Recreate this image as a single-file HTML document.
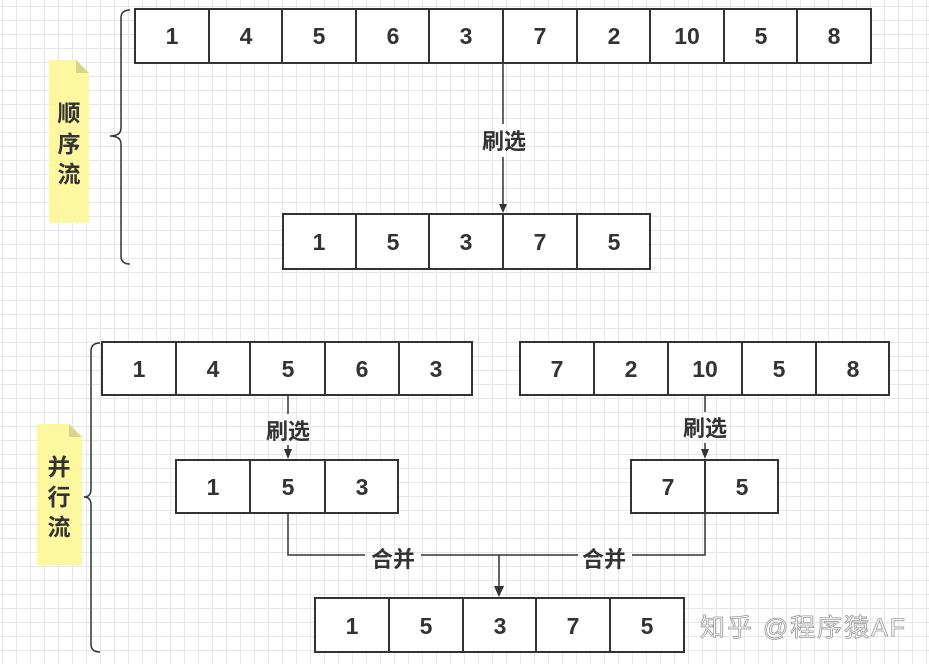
<!DOCTYPE html>
<html><head><meta charset="utf-8"><style>
html,body{margin:0;padding:0}
body{width:929px;height:664px;overflow:hidden;background-color:#fff;
background-image:linear-gradient(#e6e6e6 1px,transparent 1px),linear-gradient(90deg,#e6e6e6 1px,transparent 1px);
background-size:14px 14px;background-position:2px 6px;}
svg{position:absolute;left:0;top:0}
text{font-family:"Liberation Sans","Noto Sans CJK SC",sans-serif;font-weight:bold;fill:#333}
</style></head><body>
<svg width="929" height="664" viewBox="0 0 929 664">
<g stroke="#333" stroke-width="2" fill="#fff">
<rect x="135" y="9" width="736" height="54"/>
<path d="M209 9V63M282 9V63M356 9V63M429 9V63M503 9V63M577 9V63M650 9V63M724 9V63M797 9V63"/>
<rect x="283" y="214" width="367" height="55"/>
<path d="M356 214V269M429 214V269M503 214V269M577 214V269"/>
<rect x="102" y="342" width="370" height="53"/>
<path d="M176 342V395M250 342V395M325 342V395M399 342V395"/>
<rect x="520" y="342" width="369" height="53"/>
<path d="M594 342V395M668 342V395M742 342V395M816 342V395"/>
<rect x="176" y="460" width="222" height="53"/>
<path d="M250 460V513M325 460V513"/>
<rect x="631" y="460" width="147" height="53"/>
<path d="M705 460V513"/>
<rect x="315" y="598" width="369" height="54"/>
<path d="M389 598V652M463 598V652M536 598V652M610 598V652"/>
</g>
<g stroke="#333" stroke-width="1.5" fill="none">
<path d="M130 10Q121 10 121 18V128Q121 136 110 136Q121 136 121 144V256Q121 264 130 264"/>
<path d="M100 343Q91 343 91 351V489Q91 497 84 497Q91 497 91 505V644Q91 652 100 652"/>
<path d="M503 63V124M503 157V205"/>
<path d="M288 395V414M288 445V450"/>
<path d="M705 395V412M705 443V450"/>
<path d="M288 513V555H365M421 555H578M632 555H705V513"/>
<path d="M499 555V588"/>
</g>
<g fill="#333">
<path d="M499 213L495 204H503Z" transform="translate(4,0)"/>
<path d="M284 449H292L288 459Z"/>
<path d="M701 449H709L705 459Z"/>
<path d="M494 586H504L499 597Z"/>
</g>
<path d="M49 60H76L89 73V223H49Z" fill="#fdf7a0"/>
<path d="M76 60L89 73H76Z" fill="#d8d48a"/>
<path d="M37 424H69L82 437V565H37Z" fill="#fdf7a0"/>
<path d="M69 424L82 437H69Z" fill="#d8d48a"/>
<g font-size="23" text-anchor="middle">
<text x="69" y="121">顺</text><text x="69" y="152">序</text><text x="69" y="182">流</text>
<text x="59" y="475">并</text><text x="59" y="505">行</text><text x="59" y="535">流</text>
</g>
<g font-size="22" text-anchor="middle">
<text x="504" y="149">刷选</text>
<text x="288" y="439">刷选</text>
<text x="705" y="436">刷选</text>
<text x="393" y="567">合并</text>
<text x="604" y="567">合并</text>
</g>
<g font-size="23" text-anchor="middle">
<text x="172" y="44">1</text><text x="246" y="44">4</text><text x="319" y="44">5</text><text x="393" y="44">6</text><text x="466" y="44">3</text><text x="540" y="44">7</text><text x="614" y="44">2</text><text x="687" y="44">10</text><text x="761" y="44">5</text><text x="834" y="44">8</text>
<text x="319" y="250">1</text><text x="393" y="250">5</text><text x="466" y="250">3</text><text x="540" y="250">7</text><text x="614" y="250">5</text>
<text x="139" y="377">1</text><text x="213" y="377">4</text><text x="288" y="377">5</text><text x="362" y="377">6</text><text x="436" y="377">3</text>
<text x="557" y="377">7</text><text x="631" y="377">2</text><text x="705" y="377">10</text><text x="779" y="377">5</text><text x="853" y="377">8</text>
<text x="213" y="495">1</text><text x="288" y="495">5</text><text x="362" y="495">3</text>
<text x="668" y="495">7</text><text x="742" y="495">5</text>
<text x="352" y="634">1</text><text x="426" y="634">5</text><text x="500" y="634">3</text><text x="573" y="634">7</text><text x="647" y="634">5</text>
</g>
<text x="700" y="636" font-size="25" textLength="205" style="font-weight:normal;fill:#fff;stroke:#999;stroke-width:0.8">知乎 @程序猿AF</text>
</svg>
</body></html>
